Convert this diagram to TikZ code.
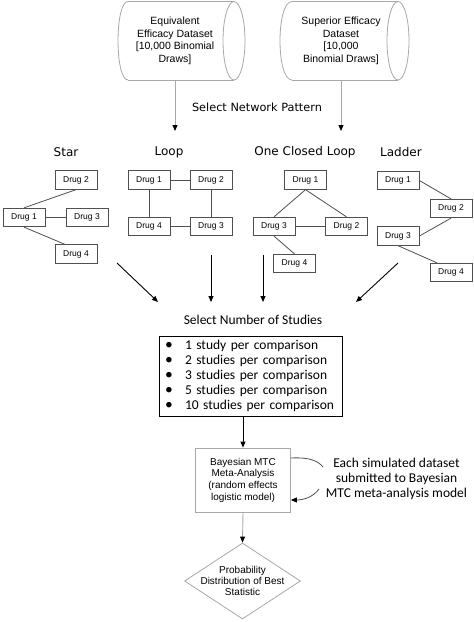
\documentclass[tikz,border=0pt]{standalone}
\usepackage{fontspec}
\setmainfont{Liberation Sans}
\newfontfamily\dejavu{DejaVu Sans}
\newfontfamily\carlito{Carlito}
\usetikzlibrary{arrows.meta,shapes.geometric}
\definecolor{lgray}{HTML}{A8A8A8}
\definecolor{dgray}{HTML}{505050}
\newcommand{\blt}{\makebox[20pt][l]{\scalebox{1.15}{•}}}
\begin{document}
\begin{tikzpicture}[x=1pt,y=-1pt,
  tip/.style={-{Triangle[length=6pt,width=5pt,color=black]}},
  cylline/.style={draw=lgray, line width=0.8pt},
  cyltext/.style={inner sep=0pt, minimum width=100pt, minimum height=78pt, align=center, font=\fontsize{10.5}{12.5}\selectfont},
  drugbox/.style={draw=dgray, line width=0.8pt, minimum width=42pt, minimum height=18.5pt, inner sep=0pt, font=\fontsize{8.5}{10}\selectfont},
  drugedge/.style={draw=dgray, line width=0.8pt},
  title/.style={font=\dejavu\fontsize{12}{14}\selectfont, inner sep=0pt},
  flow/.style={draw=black, line width=0.9pt, tip},
  grayflow/.style={draw=lgray, line width=0.9pt, tip},
  calib/.style={font=\carlito\fontsize{13.5}{15}\selectfont}
]
\useasboundingbox (0,0) rectangle (474,622);
\fill[white] (0,0) rectangle (474,622);

% cylinders
\draw[cylline] (128,1.5) -- (234,1.5) (128,80) -- (234,80);
\draw[cylline] (128,1.5) .. controls (114.7,1.5) and (114.7,80) .. (128,80);
\draw[cylline] (234,40.75) ellipse [x radius=11, y radius=39.25];
\draw[cylline] (292,1.5) -- (398,1.5) (292,80) -- (398,80);
\draw[cylline] (292,1.5) .. controls (276,1.5) and (276,80) .. (292,80);
\draw[cylline] (398,40.75) ellipse [x radius=11, y radius=39.25];

\node[cyltext] (cylA) at (175,41) {Equivalent\\Efficacy Dataset\\{[}10,000 Binomial\\Draws{]}};
\node[cyltext] (cylB) at (341,41) {Superior Efficacy\\Dataset\\{[}10,000\\Binomial Draws{]}};

\coordinate (eA) at (175,131);
\coordinate (eB) at (341,131);
\draw[grayflow] (cylA.south) -- (eA);
\draw[grayflow] (cylB.south) -- (eB);

\node[font=\dejavu\fontsize{11.3}{13}\selectfont, inner sep=0pt] (snp) at (257,107) {Select Network Pattern};

% titles
\node[title] (tstar) at (66,152) {Star};
\node[title] (tloop) at (169,152) {Loop};
\node[title] (tocl) at (305,152) {One Closed Loop};
\node[title] (tlad) at (401,152) {Ladder};

% Star
\node[drugbox] (s2) at (76,180) {Drug 2};
\node[drugbox] (s1) at (24,217.5) {Drug 1};
\node[drugbox] (s3) at (87,217.5) {Drug 3};
\node[drugbox] (s4) at (76,254) {Drug 4};
\draw[drugedge] (s1.north) -- (s2.south);
\draw[drugedge] (s1.east) -- (s3.west);
\draw[drugedge] (s1.south) -- ([xshift=-11pt]s4.north);

% Loop
\node[drugbox] (l1) at (149,180) {Drug 1};
\node[drugbox] (l2) at (211,180) {Drug 2};
\node[drugbox] (l4) at (149,226.5) {Drug 4};
\node[drugbox] (l3) at (211,226.5) {Drug 3};
\draw[drugedge] (l1) -- (l2);
\draw[drugedge] (l1) -- (l4);
\draw[drugedge] (l2) -- (l3);
\draw[drugedge] (l4) -- (l3);

% One closed loop
\node[drugbox] (o1) at (305.5,180) {Drug 1};
\node[drugbox] (o3) at (274,226.5) {Drug 3};
\node[drugbox] (o2) at (346.5,226.5) {Drug 2};
\node[drugbox] (o4) at (294.5,263.5) {Drug 4};
\draw[drugedge] (o1.south) -- (o3.north);
\draw[drugedge] (o1.south) -- (o2.north);
\draw[drugedge] (o3.east) -- (o2.west);
\draw[drugedge] (o3.south) -- (o4.north);

% Ladder
\node[drugbox] (d1) at (398,180.5) {Drug 1};
\node[drugbox] (d2) at (451,208.5) {Drug 2};
\node[drugbox] (d3) at (398,236) {Drug 3};
\node[drugbox] (d4) at (451,272.5) {Drug 4};
\draw[drugedge] (d1.east) -- (d2.north);
\draw[drugedge] (d2.south) -- (d3.east);
\draw[drugedge] (d3.south) -- ([xshift=-14pt]d4.north);

% arrows to studies
\coordinate (a1s) at (117,263); \coordinate (a1e) at (158,302);
\coordinate (a2s) at (211,255); \coordinate (a2e) at (211,302);
\coordinate (a3s) at (263,255); \coordinate (a3e) at (263,302);
\coordinate (a4s) at (398,263); \coordinate (a4e) at (356,302);
\draw[flow] (a1s) -- (a1e);
\draw[flow] (a2s) -- (a2e);
\draw[flow] (a3s) -- (a3e);
\draw[flow] (a4s) -- (a4e);

\node[calib, inner sep=0pt] (sns) at (253,320) {Select Number of Studies};

\node[calib, draw=black, line width=0.9pt, minimum width=183pt, minimum height=80pt,
      text width=171pt, inner xsep=6pt, inner ysep=0pt, align=left] (studies) at (250.5,376)
  {\blt 1 study per comparison\\
   \blt 2 studies per comparison\\
   \blt 3 studies per comparison\\
   \blt 5 studies per comparison\\
   \blt 10 studies per comparison};

\node[draw=lgray, line width=0.8pt, minimum width=95pt, minimum height=64pt, align=center,
      inner sep=0pt, font=\fontsize{10}{11.7}\selectfont] (bayes) at (243,480)
  {Bayesian MTC\\Meta-Analysis\\(random effects\\logistic model)};

\draw[flow] (studies.south -| bayes.north) -- (bayes.north);

\node[draw=lgray, line width=0.8pt, shape=diamond, minimum width=116pt, minimum height=76pt,
      inner sep=0pt] (diam) at (242.5,581) {};
\node[align=center, inner sep=0pt, font=\fontsize{10}{11.3}\selectfont] (diamtext) at (diam.center)
  {Probability\\Distribution of Best\\Statistic};
\draw[grayflow] (bayes.south) -- (diam.north);

\node[calib, align=center, inner sep=0pt] (note) at (396.5,479)
  {Each simulated dataset\\submitted to Bayesian\\MTC meta-analysis model};

\coordinate (cu) at (323,467);
\coordinate (cl) at (319,489);
\draw[dgray, line width=0.8pt] ([yshift=22pt]bayes.east) .. controls (310,457) and (318,461) .. (cu);
\draw[dgray, line width=0.8pt, tip] (cl) .. controls (314,496) and (305,500) .. ([yshift=-20pt]bayes.east);
\end{tikzpicture}
\end{document}
